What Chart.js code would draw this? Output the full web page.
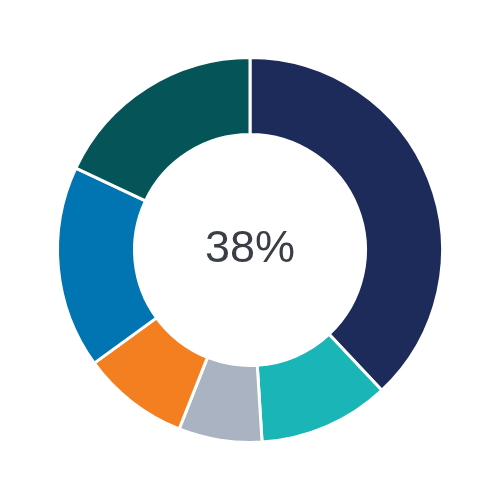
<!DOCTYPE html>
<html>
<head>
<meta charset="utf-8">
<script src="https://cdn.jsdelivr.net/npm/chart.js@4/dist/chart.umd.min.js"></script>
<style>
  html, body { margin: 0; padding: 0; background: #fff; }
  #wrap { width: 500px; height: 500px; position: relative; }
</style>
</head>
<body>
<div id="wrap"><canvas id="chartDonut"></canvas></div>
<script>
const labels = ['A', 'B', 'C', 'D', 'E', 'F'];
const values = [38, 11, 7, 9, 17, 18];
const colors = ['#1d2b5b', '#1ab5b6', '#a9b3c1', '#f37f20', '#0174b2', '#055458'];
const centerLabel = '38%';

const centerText = {
  id: 'centerText',
  afterDraw(chart) {
    const { ctx } = chart;
    const meta = chart.getDatasetMeta(0).data[0];
    ctx.save();
    ctx.font = '45px "Liberation Sans", Arial, sans-serif';
    ctx.fillStyle = '#3a3f47';
    ctx.textAlign = 'center';
    ctx.textBaseline = 'middle';
    ctx.fillText(centerLabel, meta.x, meta.y);
    ctx.restore();
  },
};

const config = {
  type: 'doughnut',
  data: {
    labels,
    datasets: [
      {
        data: values,
        backgroundColor: colors,
        borderColor: '#ffffff',
        borderWidth: 3,
      },
    ],
  },
  options: {
    responsive: true,
    maintainAspectRatio: false,
    animation: false,
    cutout: '60%',
    layout: { padding: 56 },
    plugins: {
      legend: { display: false },
      tooltip: { enabled: false },
    },
  },
  plugins: [centerText],
};

new Chart(document.querySelector('#chartDonut'), config);
</script>
</body>
</html>
